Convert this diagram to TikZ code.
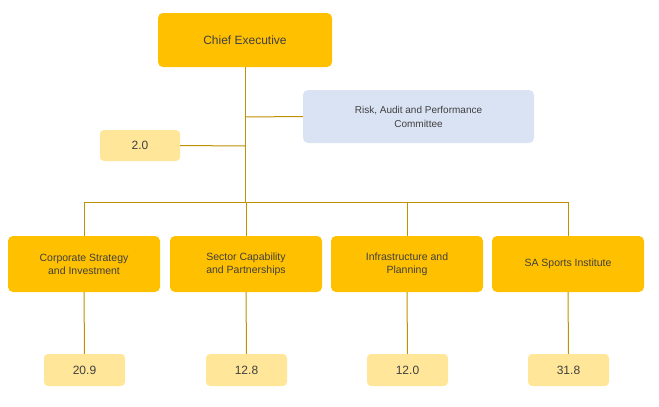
\documentclass[tikz,border=0pt]{standalone}
\usepackage{fontspec}
\setmainfont{Liberation Sans}
\begin{document}
\begin{tikzpicture}[x=1pt,y=-1pt,
  gold/.style={draw=none,fill={rgb,255:red,255;green,192;blue,0},rounded corners=5pt,text={rgb,255:red,64;green,64;blue,64},align=center,font=\fontsize{10.5}{13}\selectfont},
  num/.style={draw=none,fill={rgb,255:red,255;green,230;blue,153},rounded corners=4pt,text={rgb,255:red,64;green,64;blue,64},font=\fontsize{12}{14}\selectfont},
  blu/.style={draw=none,fill={rgb,255:red,218;green,227;blue,243},rounded corners=5pt,text={rgb,255:red,64;green,64;blue,64},align=center,font=\fontsize{10}{14}\selectfont},
  ln/.style={draw={rgb,255:red,191;green,144;blue,0},line width=1pt}]
\useasboundingbox (0,0) rectangle (659,407);
\node[gold,minimum width=174pt,minimum height=54pt,font=\fontsize{12}{14}\selectfont] (ce) at (245,40) {Chief Executive};
\node[blu,minimum width=231pt,minimum height=53pt] (risk) at (418.5,116.5) {Risk, Audit and Performance\\Committee};
\node[num,minimum width=80pt,minimum height=31pt] (n0) at (140,145.5) {2.0};
\coordinate (bus) at (245,202);
\draw[ln] (ce.south) -- (bus);
\draw[ln] (245,117) -- (risk.west);
\draw[ln] (245,146) -- (n0.east);
\draw[ln] (85,202) -- (568,202);
\foreach \i/\x/\t/\v in {a/84/{Corporate Strategy\\and Investment}/20.9, b/246/{Sector Capability\\and Partnerships}/12.8, c/407/{Infrastructure and\\Planning}/12.0, d/568/{SA Sports Institute}/31.8}{
  \node[gold,minimum width=152pt,minimum height=56pt] (\i) at (\x,264) {\t};
  \node[num,minimum width=81pt,minimum height=32pt] (\i n) at (\x+0.5,370) {\v};
  \draw[ln] (\x,202) -- (\i.north);
  \draw[ln] (\i.south) -- (\i n.north);
}
\end{tikzpicture}
\end{document}
